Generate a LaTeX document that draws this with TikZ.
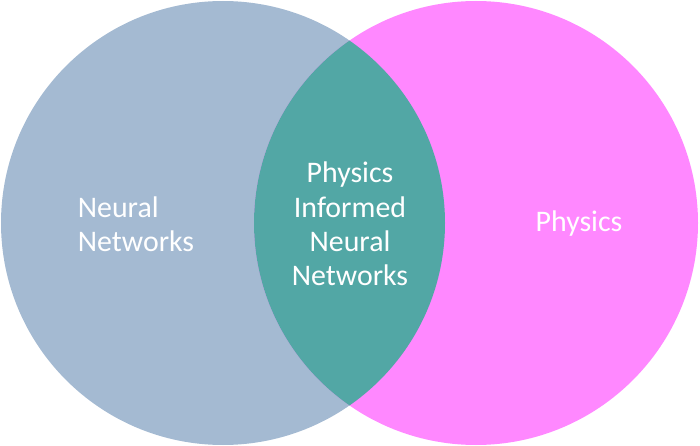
\documentclass[tikz,border=0pt]{standalone}
\usepackage{fontspec}
\setmainfont{Carlito}
\definecolor{nnblue}{HTML}{A4BAD2}
\definecolor{phypink}{HTML}{FF88FF}
\definecolor{pinnteal}{HTML}{52A7A5}
\tikzset{vlabel/.style={text=white, font=\fontsize{17}{19.6}\selectfont, inner sep=0pt}}

\begin{document}
\begin{tikzpicture}[x=0.02cm, y=-0.02cm]

\def\r{222}

\useasboundingbox (0,0) rectangle (700,446);

% Two sets
\fill[nnblue] (223,223) circle (\r);
\fill[phypink] (476,223) circle (\r);

% Overlap
\begin{scope}
	\clip (223,223) circle (\r);
	\fill[pinnteal] (476,223) circle (\r);
\end{scope}

\node[vlabel, align=left] (nn) at (136,224) {Neural\\Networks};
\node[vlabel, align=center] (pinn) at (350,224) {Physics\\Informed\\Neural\\Networks};
\node[vlabel] (phy) at (579,224) {Physics};

\end{tikzpicture}
\end{document}
